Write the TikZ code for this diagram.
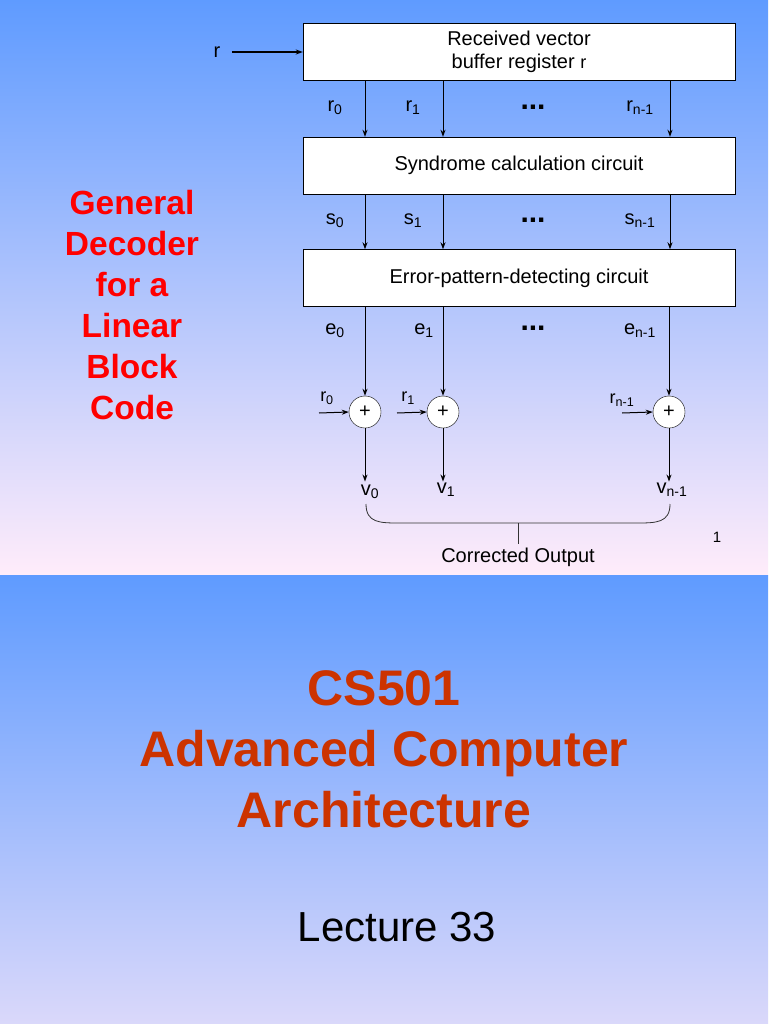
\documentclass[tikz,border=0pt]{standalone}
\usepackage{fontspec}
\setmainfont{Liberation Sans}
\usetikzlibrary{arrows.meta}
\usetikzlibrary{positioning}
\definecolor{slideblue}{RGB}{95,155,255}
\definecolor{slidepink}{RGB}{255,236,250}
\definecolor{slidelav}{RGB}{218,216,250}
\definecolor{titlered}{RGB}{204,51,0}
\tikzset{
  box/.style={draw, fill=white, minimum width=432pt, minimum height=57pt, align=center, font=\fontsize{20}{23}\selectfont},
  adder/.style={draw, fill=white, circle, minimum size=32pt, inner sep=0pt, font=\fontsize{20}{22}\selectfont},
  lbl/.style={font=\fontsize{20}{22}\selectfont},
  dots/.style={font=\fontsize{30}{30}\selectfont\bfseries},
  sig/.style={line width=1pt, -{Stealth[length=7pt,width=5pt]}}
}
\begin{document}
\begin{tikzpicture}[x=1pt, y=-1pt]
    \useasboundingbox (0,0) rectangle (768,1024);
    \shade[top color=slideblue, bottom color=slidepink] (0,0) rectangle (768,575);
    \shade[top color=slideblue, bottom color=slidelav] (0,575) rectangle (768,1024);

    % blocks
    \node[box] (buf) at (519,52) {Received vector\\buffer register {\fontsize{18}{20}\selectfont r}};
    \node[box] (syn) at (519,165.5) {Syndrome calculation circuit};
    \node[box] (err) at (519,278) {Error-pattern-detecting circuit};

    \node[lbl] (rin) at (217,52) {r};
    \draw[sig, line width=2pt] (rin.east) ++(8,0) coordinate (rstart) -- (rstart -| buf.west);

    % columns
    \coordinate (c0) at (365,0);
    \coordinate (c1) at (443,0);
    \coordinate (c2) at (670,0);
    \foreach \c in {c0,c1,c2} {
        \draw[sig] (\c |- buf.south) -- (\c |- syn.north);
        \draw[sig] (\c |- syn.south) -- (\c |- err.north);
    }
    \node[lbl] (r0) at (335,108) {r\textsubscript{0}};
    \node[lbl] (r1) at (413,108) {r\textsubscript{1}};
    \node[lbl] (rn) at (640,108) {r\textsubscript{n-1}};
    \node[lbl] (s0) at (335,221) {s\textsubscript{0}};
    \node[lbl] (s1) at (413,221) {s\textsubscript{1}};
    \node[lbl] (sn) at (640,221) {s\textsubscript{n-1}};
    \node[lbl] (e0) at (335,331) {e\textsubscript{0}};
    \node[lbl] (e1) at (424,331) {e\textsubscript{1}};
    \node[lbl] (en) at (640,331) {e\textsubscript{n-1}};
    \node[dots] (d1) at (533,107) {...};
    \node[dots] (d2) at (533,220) {...};
    \node[dots] (d3) at (533,328) {...};

    % adders
    \node[adder] (a0) at (365,412) {+};
    \node[adder] (a1) at (443,412) {+};
    \node[adder] (a2) at (669,412) {+};
    \draw[sig] (err.south -| a0) -- (a0.north);
    \draw[sig] (err.south -| a1) -- (a1.north);
    \draw[sig] (err.south -| a2) -- (a2.north);

    \node[lbl, font=\fontsize{18}{20}\selectfont] (ar0) at (327,398) {r\textsubscript{0}};
    \node[lbl, font=\fontsize{18}{20}\selectfont] (ar1) at (408,398) {r\textsubscript{1}};
    \node[lbl, font=\fontsize{18}{20}\selectfont] (arn) at (622,400) {r\textsubscript{n-1}};
    \coordinate (i0) at (319,413);
    \coordinate (i1) at (397,413);
    \coordinate (i2) at (622,413);
    \draw[sig] (i0) -- (a0.west);
    \draw[sig] (i1) -- (a1.west);
    \draw[sig] (i2) -- (a2.west);

    \node[lbl] (v0) at (370,492) {v\textsubscript{0}};
    \node[lbl] (v1) at (446,490) {v\textsubscript{1}};
    \node[lbl] (vn) at (672,490) {v\textsubscript{n-1}};
    \draw[sig] (a0.south) -- (a0 |- v0.north);
    \draw[sig] (a1.south) -- (a1 |- v0.north);
    \draw[sig] (a2.south) -- (a2 |- v0.north);

    % brace
    \node[lbl] (out) at (518,557) {Corrected Output};
    \coordinate (b0) at (366,504);
    \coordinate (b1) at (670,504);
    \draw[gray!40!black, line width=0.8pt] (b0) .. controls (366,523) and (380,523) .. (400,523) -- (636,523) .. controls (656,523) and (670,523) .. (b1);
    \draw[gray!40!black, line width=0.8pt] (518,523) -- (out.north);
    \node[font=\fontsize{15}{16}\selectfont] (pg) at (717,537) {1};

    % side title
    \node[text=red, font=\fontsize{33.5}{41}\selectfont\bfseries, align=center] (side) at (132,305) {General\\Decoder\\for a\\Linear\\Block\\ Code};

    % lower slide
    \node[text=titlered, font=\fontsize{50}{61}\selectfont\bfseries, align=center] (title) at (384,749) {CS501\\Advanced Computer\\Architecture};
    \node[font=\fontsize{42}{48}\selectfont] (lec) at (397,927) {Lecture 33};
\end{tikzpicture}
\end{document}
